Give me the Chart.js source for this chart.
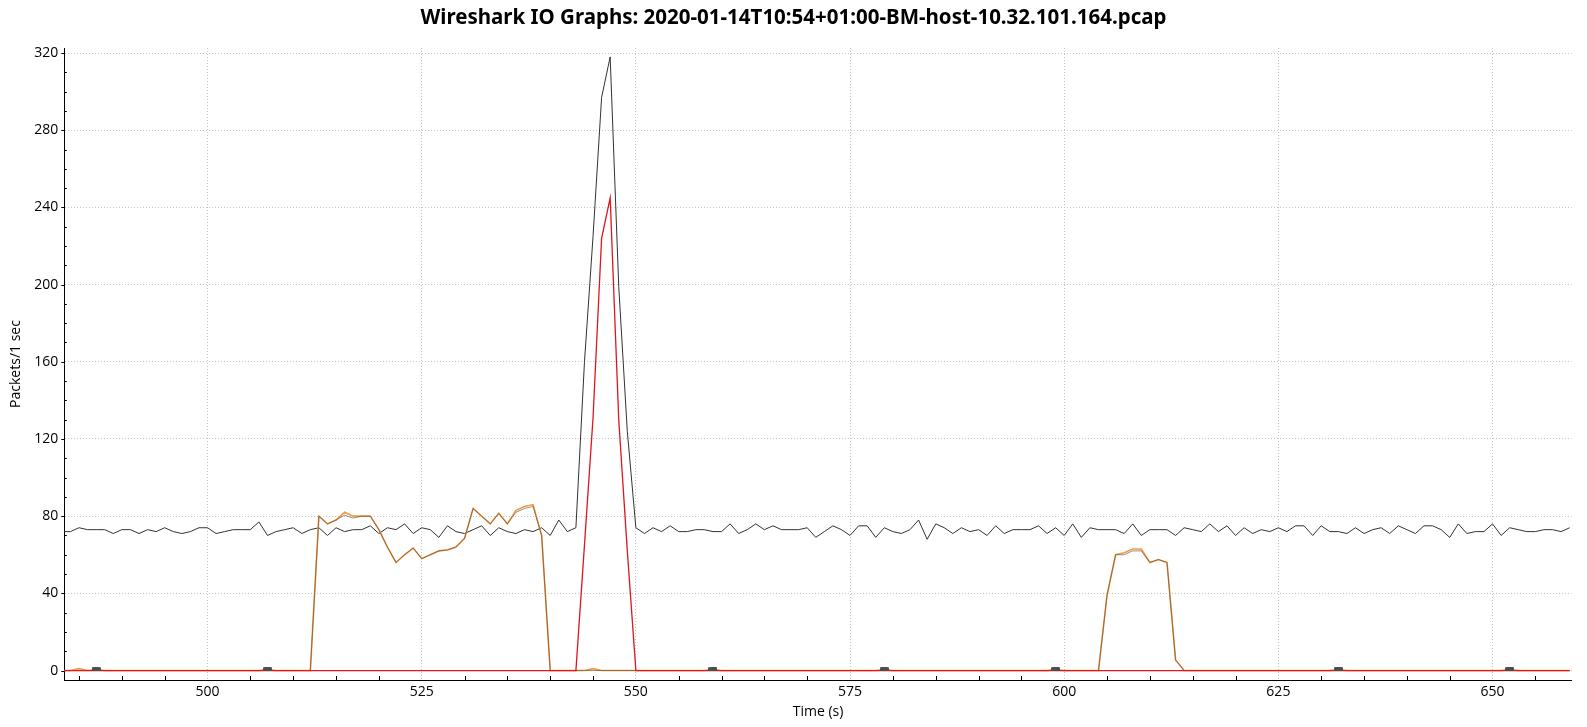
<!DOCTYPE html>
<html><head><meta charset="utf-8">
<script src="https://cdn.jsdelivr.net/npm/chart.js@4/dist/chart.umd.min.js"></script>
<style>html,body{margin:0;padding:0;background:#fff}#wrap{width:1587px;height:727px}</style>
</head><body><div id="wrap"><canvas id="c" width="1587" height="727"></canvas></div>
<script>
const chartTitle = 'Wireshark IO Graphs: 2020-01-14T10:54+01:00-BM-host-10.32.101.164.pcap';
const xTitle = 'Time (s)';
const yTitle = 'Packets/1 sec';
const firstSecond = 483;

const allPackets = [
72,72,74,73,73,73,71,73,73,71,
73,72,74,72,71,72,74,74,71,72,
73,73,73,77,70,72,73,74,71,73,
74,70,74,72,73,73,75,71,74,73,
76,71,74,73,69,75,72,71,73,75,
70,74,72,71,73,72,74,70,78,72,
74,160,225,297,318,199,124,74,71,74,
72,75,72,72,73,73,72,72,76,71,
73,76,73,75,73,73,73,74,69,72,
75,73,70,75,75,69,74,72,71,73,
78,68,76,74,71,74,72,73,70,75,
71,73,73,73,75,71,74,70,76,69,
74,73,73,73,71,76,70,73,73,73,
70,74,73,72,76,72,75,70,74,71,
73,72,74,72,75,75,70,75,72,72,
71,74,71,73,74,71,75,73,71,75,
75,73,69,76,71,72,72,76,70,74,
73,72,72,73,73,72,74];

const redSeries = [
0,0,0,0,0,0,0,0,0,0,
0,0,0,0,0,0,0,0,0,0,
0,0,0,0,0,0,0,0,0,0,
0,0,0,0,0,0,0,0,0,0,
0,0,0,0,0,0,0,0,0,0,
0,0,0,0,0,0,0,0,0,0,
0,65,131,224,245,130,62,0,0,0,
0,0,0,0,0,0,0,0,0,0,
0,0,0,0,0,0,0,0,0,0,
0,0,0,0,0,0,0,0,0,0,
0,0,0,0,0,0,0,0,0,0,
0,0,0,0,0,0,0,0,0,0,
0,0,0,0,0,0,0,0,0,0,
0,0,0,0,0,0,0,0,0,0,
0,0,0,0,0,0,0,0,0,0,
0,0,0,0,0,0,0,0,0,0,
0,0,0,0,0,0,0,0,0,0,
0,0,0,0,0,0,0];

const orangeSeries = [
0,0,1,0,0.6,0,0,0,0,0,
0,0,0,0,0,0,0,0,0,0,
0,0,0,0,0.6,0,0,0,0,0,
80,76,78,82,80,80,80,73,64,56,
60,63.5,58,60,62,62.5,64,68.5,84,80,
76,81.5,76,83,85,86,70,0,0,0,
0,0,1,0,0,0,0,0,0,0,
0,0,0,0,0,0,0.6,0,0,0,
0,0,0,0,0,0,0,0,0,0,
0,0,0,0,0,0,0.6,0,0,0,
0,0,0,0,0,0,0,0,0,0,
0,0,0,0,0,0,0.6,0,0,0,
0,0,39,60,61,63,63,56,57.5,56,
5.5,0,0,0,0,0,0,0,0,0,
0,0,0,0,0,0,0,0,0,0.6,
0,0,0,0,0,0,0,0,0,0,
0,0,0,0,0,0,0,0,0,0.6,
0,0,0,0,0,0,0];

const darkSeries = [
0,0,0,0,0,0,0,0,0,0,
0,0,0,0,0,0,0,0,0,0,
0,0,0,0,0,0,0,0,0,0,
80,76,78,80.5,79,80,80,73,64,56,
60,63.5,58,60,62,62.5,64,68.5,84,80,
76,81.5,76,82,84,85,70,0,0,0,
0,0,0,0,0,0,0,0,0,0,
0,0,0,0,0,0,0,0,0,0,
0,0,0,0,0,0,0,0,0,0,
0,0,0,0,0,0,0,0,0,0,
0,0,0,0,0,0,0,0,0,0,
0,0,0,0,0,0,0,0,0,0,
0,0,39,60,60,62,62,56,57.5,56,
5.5,0,0,0,0,0,0,0,0,0,
0,0,0,0,0,0,0,0,0,0,
0,0,0,0,0,0,0,0,0,0,
0,0,0,0,0,0,0,0,0,0,
0,0,0,0,0,0,0];

const markerTimes = [487, 507, 559, 579, 599, 632, 652];
const markerValues = [1, 1, 1, 1, 1, 1, 1];

const xMajor = 25, xMinor = 5, yMajor = 40, yMinor = 10;
const FONT = '"Open Sans", "Noto Sans", sans-serif';
const TITLE_FONT = '"Noto Sans", "Open Sans", sans-serif';

const seconds = allPackets.map((_, i) => firstSecond + i);
const pts = arr => arr.map((v, i) => ({x: seconds[i], y: v}));

// marker glyph (style only)
const mk = document.createElement('canvas');
mk.width = 9; mk.height = 4;
(function(){ const g = mk.getContext('2d'); g.fillStyle = '#4d4d4d';
  g.beginPath(); g.moveTo(1.5,0); g.lineTo(7.5,0); g.quadraticCurveTo(9,0,9,1.5); g.lineTo(9,4); g.lineTo(0,4); g.lineTo(0,1.5); g.quadraticCurveTo(0,0,1.5,0); g.fill(); })();

const decor = {
  id: 'decor',
  afterDraw(chart) {
    const {ctx, chartArea: a} = chart;
    const x = chart.scales.x, y = chart.scales.y;
    ctx.save();
    ctx.strokeStyle = '#000'; ctx.lineWidth = 1;
    ctx.beginPath();
    x.ticks.forEach(t => {
      const px = Math.round(x.getPixelForValue(t.value)) + 0.5;
      if (t.value % xMajor !== 0) { ctx.moveTo(px, a.bottom); ctx.lineTo(px, a.bottom - 4); }
    });
    y.ticks.forEach(t => {
      const py = Math.round(y.getPixelForValue(t.value)) + 0.5;
      if (t.value % yMajor !== 0) { ctx.moveTo(a.left, py); ctx.lineTo(a.left + 2.5, py); }
      else { ctx.moveTo(a.left - 3, py); ctx.lineTo(a.left, py); }
    });
    ctx.stroke();
    ctx.fillStyle = '#000';
    ctx.font = 'bold 17px ' + TITLE_FONT;
    const w = ctx.measureText(chartTitle).width;
    const size = Math.max(15, Math.min(21, 17 * 746 / w));
    ctx.font = 'bold ' + size.toFixed(1) + 'px ' + TITLE_FONT;
    ctx.textAlign = 'center'; ctx.textBaseline = 'middle';
    ctx.fillText(chartTitle, chart.width / 2, 18.5);
    ctx.restore();
  }
};

new Chart(document.getElementById('c'), {
  type: 'line',
  data: {
    datasets: [
      {data: markerTimes.map((t, i) => ({x: t, y: markerValues[i]})), showLine: false, pointStyle: mk, pointRadius: 5, pointHoverRadius: 5, borderWidth: 0},
      {data: pts(redSeries), borderColor: '#e2141c', borderWidth: 1.3},
      {data: pts(darkSeries), borderColor: 'rgba(95,70,55,0.6)', borderWidth: 1},
      {data: pts(orangeSeries), borderColor: '#ef9a45', borderWidth: 1.6},
      {data: pts(allPackets), borderColor: '#333333', borderWidth: 1}
    ]
  },
  options: {
    responsive: false, animation: false, devicePixelRatio: 1,
    layout: {padding: {left: 0, right: 15.3, top: 48, bottom: 0}},
    plugins: {legend: {display: false}, title: {display: false}, tooltip: {enabled: false}},
    elements: {line: {tension: 0, fill: false}, point: {radius: 0}},
    scales: {
      x: {
        type: 'linear', min: 483.28, max: 659.24,
        afterFit(s) { s.height = 47; },
        ticks: {stepSize: xMinor, includeBounds: false, autoSkip: false, maxRotation: 0, padding: 4, color: '#000',
          font: {family: FONT, size: 14}, callback: v => (v % xMajor === 0 ? String(v) : '')},
        grid: {drawTicks: false, lineWidth: 1, color: c => (c.tick && c.tick.value % xMajor === 0) ? '#c6c6c6' : 'rgba(0,0,0,0)'},
        border: {display: true, color: '#000', width: 1, dash: [1, 2]},
        title: {display: true, text: xTitle, color: '#000', font: {family: FONT, size: 14}, padding: {top: 0, bottom: 6.6}}
      },
      y: {
        type: 'linear', min: -4.9, max: 322.6,
        afterFit(s) { s.width = 64.3; },
        ticks: {stepSize: yMinor, includeBounds: false, autoSkip: false, padding: 6, color: '#000',
          font: {family: FONT, size: 14}, callback: v => (v % yMajor === 0 ? String(v) : '')},
        grid: {drawTicks: false, lineWidth: 1, color: c => (c.tick && c.tick.value % yMajor === 0) ? '#c6c6c6' : 'rgba(0,0,0,0)'},
        border: {display: true, color: '#000', width: 1, dash: [1, 2]},
        title: {display: true, text: yTitle, color: '#000', font: {family: FONT, size: 14}, padding: {top: 7.6, bottom: 0}}
      }
    }
  },
  plugins: [decor]
});
</script></body></html>
